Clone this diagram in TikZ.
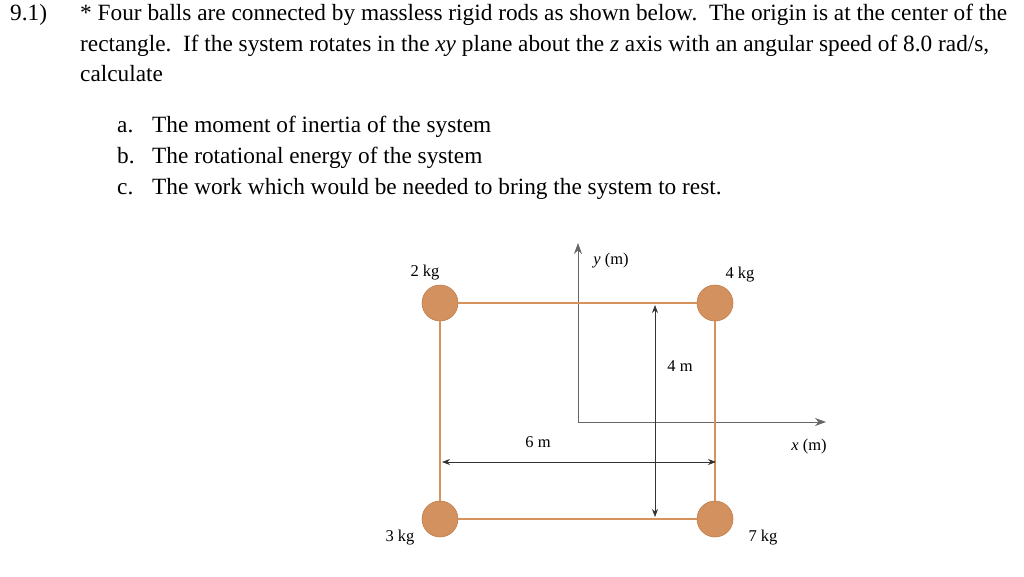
\documentclass[tikz,border=0pt]{standalone}
\usepackage{fontspec}
\setmainfont{Liberation Serif}
\usetikzlibrary{arrows.meta}
\definecolor{rod}{RGB}{214,146,92}
\definecolor{ball}{RGB}{210,145,95}
\definecolor{ballrim}{RGB}{190,125,75}
\begin{document}
\begin{tikzpicture}[x=1pt,y=-1pt,
  txt/.style={anchor=base west,inner sep=0pt,font=\fontsize{23.3}{26}\selectfont},
  lab/.style={inner sep=0pt,font=\fontsize{16.5}{18}\selectfont},
  ballnode/.style={circle,fill=ball,draw=ballrim,line width=0.6pt,minimum size=36pt,inner sep=0pt},
  rodline/.style={rod,line width=2.4pt},
  axis/.style={gray!80!black,line width=0.8pt,-{Stealth[length=11pt,width=8pt]}},
  dim/.style={black!80,line width=0.7pt,{Stealth[length=8pt,width=6pt]}-{Stealth[length=8pt,width=6pt]}}]
\useasboundingbox (0,0) rectangle (1024,577);
\node[txt] (num) at (10,21) {9.1)};
\node[txt] (l1) at (80,21) {* Four balls are connected by massless rigid rods as shown below.\ \ The origin is at the center of the};
\node[txt] (l2) at (80,52) {rectangle.\ \ If the system rotates in the \textit{xy} plane about the \textit{z} axis with an angular speed of 8.0 rad/s,};
\node[txt] (l3) at (80,82) {calculate};
\node[txt] (a) at (117,133) {a.};
\node[txt] (at) at (152,133) {The moment of inertia of the system};
\node[txt] (b) at (117,164) {b.};
\node[txt] (bt) at (152,164) {The rotational energy of the system};
\node[txt] (c) at (117,195) {c.};
\node[txt] (ct) at (152,195) {The work which would be needed to bring the system to rest.};
\coordinate (o) at (578,422);
\coordinate (ytop) at (578,243);
\coordinate (xend) at (826,422);
\draw[axis] (o) -- (ytop);
\draw[axis] (o) -- (xend);
\node[ballnode] (tl) at (440,303) {};
\node[ballnode] (tr) at (715,303) {};
\node[ballnode] (bl) at (440,519) {};
\node[ballnode] (br) at (715,519) {};
\draw[rodline] (tl) -- (tr);
\draw[rodline] (bl) -- (br);
\draw[rodline] (tl) -- (bl);
\draw[rodline] (tr) -- (br);
\coordinate (d4a) at (655,305);
\coordinate (d4b) at (655,517);
\coordinate (d6a) at (442,462);
\coordinate (d6b) at (716,462);
\draw[dim] (d4a) -- (d4b);
\draw[dim] (d6a) -- (d6b);
\node[lab] (m2) at (425,273) {2 kg};
\node[lab] (m4) at (740,275) {4 kg};
\node[lab] (m3) at (400,538) {3 kg};
\node[lab] (m7) at (763,538) {7 kg};
\node[lab] (yl) at (611,261) {\textit{y} (m)};
\node[lab] (xl) at (809,447) {\textit{x} (m)};
\node[lab] (l6) at (538,442) {6 m};
\node[lab] (l4) at (680,366) {4 m};
\end{tikzpicture}
\end{document}
